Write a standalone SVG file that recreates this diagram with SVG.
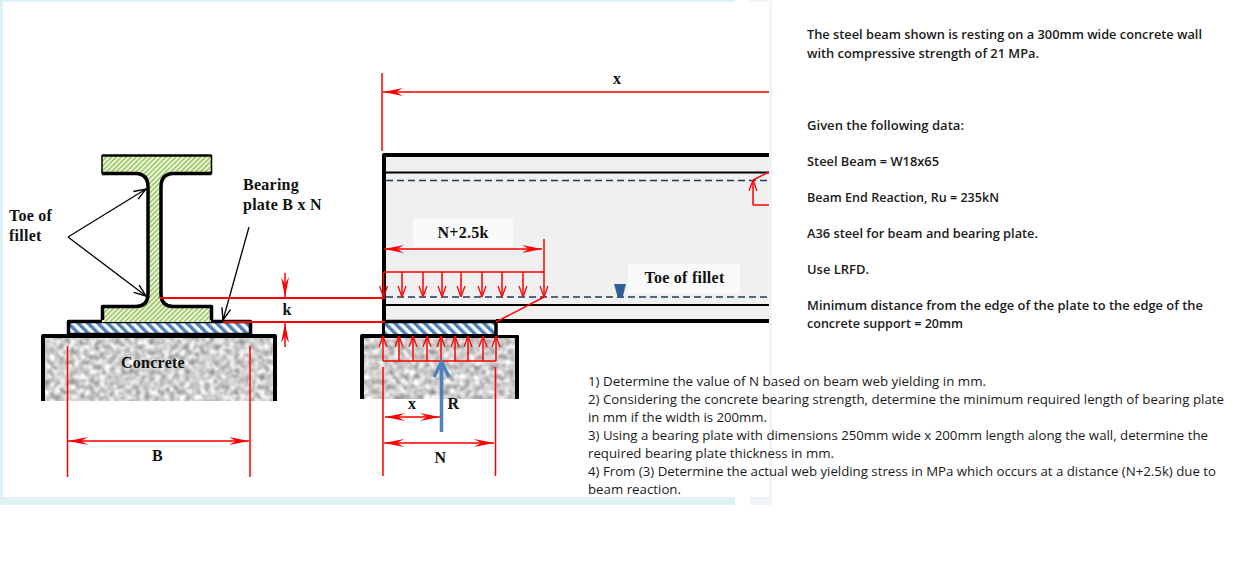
<svg xmlns="http://www.w3.org/2000/svg" width="1241" height="567" viewBox="0 0 1241 567">
<style>
.t{font-family:"Liberation Serif","Times New Roman",serif;font-weight:700;font-size:16px;letter-spacing:.25px;fill:#111}
.s{font-family:"Open Sans","Noto Sans",sans-serif;font-weight:600;font-size:13px;fill:#1a1a1a}
.r{font-family:"Open Sans","Noto Sans",sans-serif;font-weight:400;font-size:13px;fill:#1a1a1a}
.k{fill:none;stroke:#000;stroke-linejoin:round}
.red{fill:none;stroke:#f00;stroke-width:1.5}
.blk{fill:none;stroke:#000;stroke-width:1.3}
</style>
<defs>
<pattern id="green" width="3.500" height="3.500" patternUnits="userSpaceOnUse" patternTransform="rotate(-45)"><rect width="3.500" height="3.500" fill="#eef6e0"/><rect width="3.500" height="1.600" fill="#9cc765"/></pattern>
<pattern id="blue" width="7" height="7" patternUnits="userSpaceOnUse" patternTransform="rotate(-45)"><rect width="7" height="7" fill="#fff"/><rect width="3.500" height="7" fill="#4f81bd"/></pattern>
<filter id="grain" x="0" y="0" width="100%" height="100%" color-interpolation-filters="sRGB">
<feTurbulence type="fractalNoise" baseFrequency="0.2" numOctaves="2" seed="7"/>
<feGaussianBlur stdDeviation="0.8"/>
<feColorMatrix type="matrix" values="0.9 0 0 0 0.36  0.9 0 0 0 0.36  0.9 0 0 0 0.36  0 0 0 0 1"/>
</filter>
<marker id="ah" viewBox="0 0 20 10" refX="20" refY="5" markerWidth="20" markerHeight="10" markerUnits="userSpaceOnUse" orient="auto-start-reverse"><path d="M0 1L20 5L0 9L7 5Z" fill="#f00"/></marker>
<marker id="as" viewBox="0 0 11 10" refX="11" refY="5" markerWidth="11" markerHeight="10" markerUnits="userSpaceOnUse" orient="auto"><path d="M0 1L11 5L0 9" fill="none" stroke="#f00" stroke-width="1.300"/></marker>
<marker id="bh" viewBox="0 0 16 12" refX="15" refY="6" markerWidth="16" markerHeight="12" markerUnits="userSpaceOnUse" orient="auto"><path d="M3 1.500L15 6L3 10.500" fill="none" stroke="#000" stroke-width="1.400"/></marker>
</defs>

<g id="page">
<rect width="735" height="505" fill="#dff1f8"/>
<rect x="750" y="0" width="22" height="505" fill="#eef5f9"/>
<rect x="3" y="2" width="766" height="495" fill="#fff"/>
</g>

<g id="concrete-left">
<rect x="43" y="336" width="232" height="65" filter="url(#grain)"/>
<path class="k" stroke-width="4" d="M43 401V336H275V401"/>
<text class="t" x="153" y="368" text-anchor="middle">Concrete</text>
</g>
<g id="plate-left">
<rect x="69" y="322" width="181" height="13" fill="url(#blue)"/>
<rect class="k" stroke-width="3.500" x="68.500" y="321.500" width="182" height="13"/>
</g>
<g id="ibeam-section">
<path d="M102 156H211V173.500H172Q161 174 161 186V295Q161 306 172 306.500H211V322H102V306.500H137Q148 306 148 295V186Q148 174 137 173.500H102Z" fill="url(#green)"/>
<path class="k" stroke-width="2.500" d="M102 155.500H211.500"/>
<path class="k" stroke-width="3.500" d="M102 173.500H136Q148 174 148 187V294Q148 306 136 306.500H102.500V320M211.500 173.500H173Q161 174 161 187V294Q161 306 173 306.500H211.500V320"/>
<path class="k" stroke-width="1.500" d="M102 155V174M211.500 155V174"/>
</g>
<g id="concrete-right">
<rect x="362" y="336" width="155" height="63" filter="url(#grain)"/>
<path class="k" stroke-width="4" d="M362 399V336H517V399"/>
</g>
<g id="beam-elevation">
<rect x="385" y="156" width="384" height="164" fill="#f0f0f0"/>
<rect x="496" y="323" width="273" height="12" fill="#fff"/>
<path d="M769 155H384V335" class="k" stroke-width="4"/>
<path class="k" stroke-width="2" d="M386 172.500H769M386 305H769"/>
<path class="k" stroke-width="4" d="M496 321H769"/>
<path fill="none" stroke="#1f3864" stroke-width="1.500" stroke-dasharray="7 4" d="M386 180.500H769M386 297H769"/>
</g>
<g id="plate-right">
<rect x="385" y="322" width="110" height="12" fill="url(#blue)"/>
<path class="k" stroke-width="3.500" d="M384 321.500H496V336"/>
</g>
<g id="label-n25k">
<rect x="413" y="219" width="100" height="28" fill="#fafafa"/>
<text class="t" x="463" y="238" text-anchor="middle">N+2.5k</text>
</g>
<g id="label-toe-right">
<rect x="628" y="264" width="112" height="29" fill="#fafafa"/>
<text class="t" x="684.500" y="283" text-anchor="middle">Toe of fillet</text>
<path d="M614 284H626L622.500 298H618Z" fill="#2f5f97"/>
</g>

<g id="connectors">
<path class="blk" marker-end="url(#bh)" d="M68 237L146 189"/>
<path class="blk" marker-end="url(#bh)" d="M68 237L146 296"/>
<path class="blk" marker-end="url(#bh)" d="M249 227L223 320"/>

<path class="red" style="stroke-width:2" d="M160 298H385M223 322H385"/>
<path class="red" marker-end="url(#ah)" d="M285 273V297"/>
<path class="red" marker-end="url(#ah)" d="M285 347V323"/>
<path class="red" d="M67.500 346V477M250 346V477"/>
<path class="red" marker-start="url(#ah)" marker-end="url(#ah)" d="M68 441H249"/>

<path class="red" d="M382 73V151"/>
<path class="red" marker-start="url(#ah)" d="M383 92H769"/>
<path class="red" d="M769 205H753"/>
<path class="red" marker-end="url(#as)" d="M753 205V180"/>
<path class="red" d="M753 180L769 172"/>

<path class="red" marker-start="url(#ah)" marker-end="url(#ah)" d="M384 249H542"/>
<path class="red" d="M544 239V272M384 272H544M544 297L496 322"/>
<path class="red" marker-end="url(#as)" d="M383.500 272V297"/>
<path class="red" marker-end="url(#as)" d="M402 272V297"/>
<path class="red" marker-end="url(#as)" d="M423 272V297"/>
<path class="red" marker-end="url(#as)" d="M442 272V297"/>
<path class="red" marker-end="url(#as)" d="M461 272V297"/>
<path class="red" marker-end="url(#as)" d="M482 272V297"/>
<path class="red" marker-end="url(#as)" d="M502 272V297"/>
<path class="red" marker-end="url(#as)" d="M523 272V297"/>
<path class="red" marker-end="url(#as)" d="M544 272V297"/>
<path class="red" marker-end="url(#as)" d="M383 361V336"/>
<path class="red" marker-end="url(#as)" d="M399 361V336"/>
<path class="red" marker-end="url(#as)" d="M413 361V336"/>
<path class="red" marker-end="url(#as)" d="M427 361V336"/>
<path class="red" marker-end="url(#as)" d="M441 361V336"/>
<path class="red" marker-end="url(#as)" d="M455 361V336"/>
<path class="red" marker-end="url(#as)" d="M468 361V336"/>
<path class="red" marker-end="url(#as)" d="M483 361V336"/>
<path class="red" marker-end="url(#as)" d="M496 361V336"/>
<path class="red" d="M383 361H496"/>
<path class="red" d="M383 367V476M495.500 367V476"/>
<path class="red" marker-start="url(#ah)" marker-end="url(#ah)" d="M385 417H440"/>
<path class="red" marker-start="url(#ah)" marker-end="url(#ah)" d="M384 443H494"/>
<path fill="none" stroke="#4f81bd" stroke-width="3.500" d="M441.500 432V363M434 377L441.500 362L449 377"/>
</g>

<g id="labels">
<text class="t" x="9" y="221">Toe of</text>
<text class="t" x="9" y="241">fillet</text>
<text class="t" x="243" y="190">Bearing</text>
<text class="t" x="243" y="210">plate B x N</text>
<text class="t" x="287" y="315" text-anchor="middle">k</text>
<text class="t" x="157.500" y="461" text-anchor="middle">B</text>
<text class="t" x="617" y="84" text-anchor="middle">x</text>
<text class="t" x="412" y="409" text-anchor="middle">x</text>
<text class="t" x="453.500" y="409" text-anchor="middle">R</text>
<text class="t" x="440.500" y="463" text-anchor="middle">N</text>
</g>

<g id="problem-text">
<text class="s" x="807" y="39" textLength="395" lengthAdjust="spacingAndGlyphs">The steel beam shown is resting on a 300mm wide concrete wall</text>
<text class="s" x="807" y="58" textLength="232" lengthAdjust="spacingAndGlyphs">with compressive strength of 21 MPa.</text>
<text class="s" x="807" y="130" textLength="157" lengthAdjust="spacingAndGlyphs">Given the following data:</text>
<text class="s" x="807" y="166" textLength="132" lengthAdjust="spacingAndGlyphs">Steel Beam = W18x65</text>
<text class="s" x="807" y="202" textLength="192" lengthAdjust="spacingAndGlyphs">Beam End Reaction, Ru = 235kN</text>
<text class="s" x="807" y="238" textLength="231" lengthAdjust="spacingAndGlyphs">A36 steel for beam and bearing plate.</text>
<text class="s" x="807" y="274" textLength="62" lengthAdjust="spacingAndGlyphs">Use LRFD.</text>
<text class="s" x="807" y="310" textLength="396" lengthAdjust="spacingAndGlyphs">Minimum distance from the edge of the plate to the edge of the</text>
<text class="s" x="807" y="328" textLength="156" lengthAdjust="spacingAndGlyphs">concrete support = 20mm</text>
<text class="r" x="588" y="386" textLength="398" lengthAdjust="spacingAndGlyphs">1) Determine the value of N based on beam web yielding in mm.</text>
<text class="r" x="588" y="404" textLength="636" lengthAdjust="spacingAndGlyphs">2) Considering the concrete bearing strength, determine the minimum required length of bearing plate</text>
<text class="r" x="588" y="422" textLength="179" lengthAdjust="spacingAndGlyphs">in mm if the width is 200mm.</text>
<text class="r" x="588" y="440" textLength="620" lengthAdjust="spacingAndGlyphs">3) Using a bearing plate with dimensions 250mm wide x 200mm length along the wall, determine the</text>
<text class="r" x="588" y="458" textLength="246" lengthAdjust="spacingAndGlyphs">required bearing plate thickness in mm.</text>
<text class="r" x="588" y="476" textLength="628" lengthAdjust="spacingAndGlyphs">4) From (3) Determine the actual web yielding stress in MPa which occurs at a distance (N+2.5k) due to</text>
<text class="r" x="588" y="494" textLength="93" lengthAdjust="spacingAndGlyphs">beam reaction.</text>
</g>
</svg>
